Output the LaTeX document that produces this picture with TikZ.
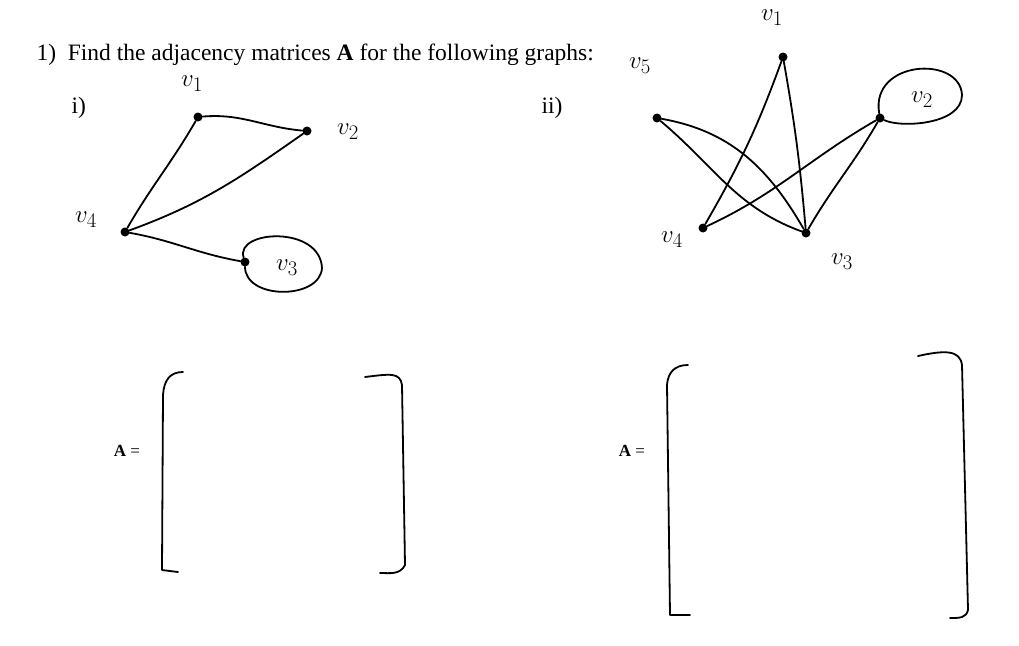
\documentclass[tikz,border=0pt]{standalone}
\usepackage{fontspec}
\setmainfont{Liberation Serif}
\begin{document}
\begin{tikzpicture}[x=1pt,y=-1pt,
  vert/.style={circle,fill=black,inner sep=0pt,minimum size=9pt},
  pen/.style={line width=1.8pt,line cap=round,line join=round},
  hand/.style={font=\fontsize{28}{28}\selectfont},
  txt/.style={font=\fontsize{23.5}{23.5}\selectfont,anchor=west}]
\useasboundingbox (0,0) rectangle (1019,645);
\node[txt] (title) at (33,55) {1)\ \ Find the adjacency matrices \textbf{A} for the following graphs:};
\node[txt] (i) at (68,108) {i)};
\node[txt] (ii) at (538,108) {ii)};
% graph i
\node[vert] (a1) at (198,117) {};
\node[vert] (a2) at (307,131) {};
\node[vert] (a4) at (125,232) {};
\node[vert] (a3) at (245,262) {};
\draw[pen] (a1) to[out=5,in=175] (a2);
\draw[pen] (a1) to[out=240,in=60] (a4);
\draw[pen] (a4) to[out=20,in=215] (a2);
\draw[pen] (a4) to[out=-10,in=170] (a3);
\draw[pen] (a3) .. controls (235,230) and (320,225) .. (322,268) .. controls (320,300) and (245,300) .. (a3);
\node[hand] (l1) at (192,84) {$v_{1}$};
\node[hand] (l2) at (348,132) {$v_{2}$};
\node[hand] (l4) at (86,220) {$v_{4}$};
\node[hand] (l3) at (287,268) {$v_{3}$};
% graph ii
\node[vert] (b1) at (783,57) {};
\node[vert] (b5) at (657,118) {};
\node[vert] (b2) at (880,118) {};
\node[vert] (b4) at (703,228) {};
\node[vert] (b3) at (806,233) {};
\draw[pen] (b1) to[out=250,in=60] (b4);
\draw[pen] (b1) to[out=280,in=95] (b3);
\draw[pen] (b5) to[out=-10,in=120] (b3);
\draw[pen] (b5) to[out=-40,in=160] (b3);
\draw[pen] (b2) to[out=210,in=25] (b4);
\draw[pen] (b2) to[out=240,in=60] (b3);
\draw[pen] (b2) .. controls (870,60) and (960,55) .. (962,95) .. controls (962,125) and (900,128) .. (b2);
\node[hand] (m1) at (772,18) {$v_{1}$};
\node[hand] (m5) at (640,66) {$v_{5}$};
\node[hand] (m2) at (922,100) {$v_{2}$};
\node[hand] (m4) at (672,240) {$v_{4}$};
\node[hand] (m3) at (842,262) {$v_{3}$};
% matrices
\node[font=\fontsize{17}{17}\selectfont] (A1) at (127,451) {\textbf{A} =};
\node[font=\fontsize{17}{17}\selectfont] (A2) at (632,451) {\textbf{A} =};
\draw[pen] (183,372) .. controls (170,372) and (164,380) .. (163,395) -- (162,570) -- (178,572);
\draw[pen] (365,377) .. controls (390,374) and (400,372) .. (402,385) -- (405,565) .. controls (400,575) and (390,573) .. (380,573);
\draw[pen] (688,365) .. controls (675,365) and (668,372) .. (667,385) -- (670,615) -- (690,615);
\draw[pen] (918,356) .. controls (945,350) and (960,350) .. (962,365) -- (968,610) .. controls (966,618) and (960,618) .. (950,618);
\end{tikzpicture}
\end{document}
